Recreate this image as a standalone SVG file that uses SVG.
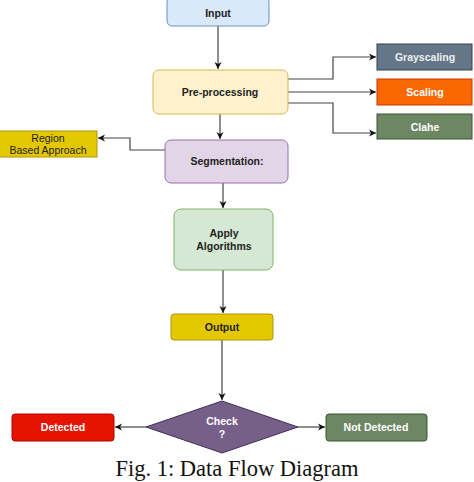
<svg xmlns="http://www.w3.org/2000/svg" width="474" height="482" viewBox="0 0 474 482">
<defs>
<marker id="ah" markerWidth="8" markerHeight="8" refX="7" refY="4" orient="auto" markerUnits="userSpaceOnUse">
<path d="M0,0.5 L7,4 L0,7.5 L2,4 Z" fill="#111"/>
</marker>
<style>
.lbl{font-family:"Liberation Sans",Arial,sans-serif;font-size:10.5px;font-weight:bold;text-anchor:middle;dominant-baseline:central}
.dk{fill:#222}
.wh{fill:#fff}
.edge{fill:none;stroke:#444;stroke-width:1.2;marker-end:url(#ah)}
</style>
</defs>
<rect width="474" height="482" fill="#fff"/>
<g id="connectors">
<path class="edge" d="M218,26 V69"/>
<path class="edge" d="M288,79 H333 V57 H376"/>
<path class="edge" d="M288,92 H376"/>
<path class="edge" d="M288,103 H333 V133 H376"/>
<path class="edge" d="M220,114 V139"/>
<path class="edge" d="M165,150 H130 V138 H98"/>
<path class="edge" d="M223,183 V208"/>
<path class="edge" d="M223,270 V313"/>
<path class="edge" d="M222,340 V400"/>
<path class="edge" d="M146,427 H115"/>
<path class="edge" d="M298,427 H325"/>
</g>
<g id="input">
<rect x="167" y="-3" width="102" height="29" rx="5" fill="#dae8fc" stroke="#6c8ebf"/>
<text class="lbl dk" x="218" y="13">Input</text>
</g>
<g id="preprocessing">
<rect x="153" y="70" width="135" height="44" rx="6" fill="#fff2cc" stroke="#d6b656"/>
<text class="lbl dk" x="220" y="92">Pre-processing</text>
</g>
<g id="grayscaling">
<rect x="377" y="44" width="95" height="26" fill="#647687" stroke="#314354"/>
<text class="lbl" fill="#eef0f2" x="425" y="57">Grayscaling</text>
</g>
<g id="scaling">
<rect x="377" y="79" width="95" height="26" fill="#fa6800" stroke="#c73500"/>
<text class="lbl wh" x="425" y="92">Scaling</text>
</g>
<g id="clahe">
<rect x="377" y="114" width="95" height="25" fill="#6d8764" stroke="#3a5431"/>
<text class="lbl wh" x="425" y="127">Clahe</text>
</g>
<g id="segmentation">
<rect x="165" y="140" width="123" height="43" rx="6" fill="#e1d5e7" stroke="#9673a6"/>
<text class="lbl dk" x="227" y="161">Segmentation:</text>
</g>
<g id="region">
<rect x="-1" y="131" width="98" height="26" fill="#e3c800" stroke="#b09500"/>
<text class="lbl dk" style="font-weight:normal" x="48" y="138">Region</text>
<text class="lbl dk" style="font-weight:normal" x="48" y="150">Based Approach</text>
</g>
<g id="apply">
<rect x="174" y="209" width="99" height="61" rx="7" fill="#d5e8d4" stroke="#82b366"/>
<text class="lbl dk" x="224" y="233">Apply</text>
<text class="lbl dk" x="224" y="246">Algorithms</text>
</g>
<g id="output">
<rect x="171" y="314" width="102" height="26" rx="3" fill="#e3c800" stroke="#b09500"/>
<text class="lbl dk" x="222" y="327">Output</text>
</g>
<g id="check">
<polygon points="222,401 298,427 222,453 146,427" fill="#76608a" stroke="#432d57"/>
<text class="lbl wh" x="222" y="421">Check</text>
<text class="lbl wh" x="222" y="434">?</text>
</g>
<g id="detected">
<rect x="12" y="414" width="102" height="27" rx="3" fill="#e51400" stroke="#b20000"/>
<text class="lbl wh" x="63" y="427">Detected</text>
</g>
<g id="notdetected">
<rect x="326" y="414" width="101" height="27" rx="3" fill="#6d8764" stroke="#3a5431"/>
<text class="lbl wh" x="376" y="427">Not Detected</text>
</g>
<text x="237" y="476" font-family="'Liberation Serif','Times New Roman',serif" font-size="22.5" text-anchor="middle" fill="#111">Fig. 1: Data Flow Diagram</text>
</svg>
